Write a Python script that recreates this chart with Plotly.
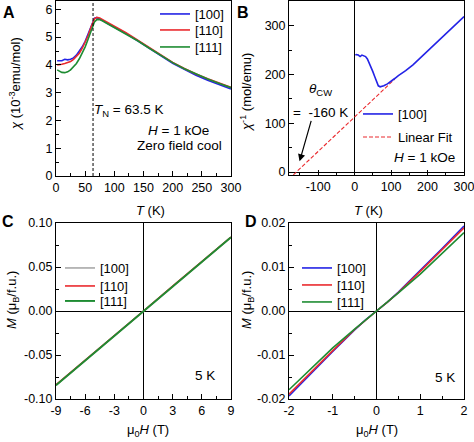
import plotly.graph_objects as go

W, H = 474, 442
FONT = "Arial, Liberation Sans, sans-serif"

# ---------------- data ----------------
# Panel A: susceptibility chi (1e-3 emu/mol) vs T (K)
T_A = [2, 5, 10, 15, 20, 25, 30, 35, 40, 45, 50, 55, 60, 63, 66, 70, 75, 80, 90,
       100, 120, 140, 160, 180, 200, 220, 240, 260, 280, 300]
chi_100 = [4.15, 4.14, 4.15, 4.20, 4.18, 4.20, 4.25, 4.35, 4.48, 4.65, 4.85, 5.10, 5.38,
           5.55, 5.68, 5.70, 5.66, 5.60, 5.47, 5.36, 5.13, 4.87, 4.59, 4.31, 4.06, 3.84,
           3.63, 3.45, 3.29, 3.13]
chi_110 = [4.00, 4.00, 4.02, 4.05, 4.08, 4.12, 4.20, 4.30, 4.42, 4.60, 4.82, 5.05, 5.35,
           5.52, 5.66, 5.71, 5.69, 5.63, 5.50, 5.39, 5.16, 4.90, 4.62, 4.35, 4.09, 3.87,
           3.67, 3.50, 3.34, 3.19]
chi_111 = [3.82, 3.78, 3.73, 3.72, 3.75, 3.82, 3.92, 4.05, 4.22, 4.42, 4.65, 4.92, 5.22,
           5.40, 5.55, 5.63, 5.63, 5.58, 5.46, 5.35, 5.12, 4.87, 4.60, 4.33, 4.08, 3.86,
           3.66, 3.49, 3.33, 3.18]
T_N = 63.5

# Panel B: inverse susceptibility (mol/emu) vs T (K)
T_B = [2, 5, 10, 15, 20, 25, 30, 35, 40, 45, 50, 55, 60, 65, 70, 75, 80, 90, 100, 110,
       120, 140, 160, 180, 200, 220, 240, 250, 260, 280, 300]
inv_100 = [240, 241, 240, 237, 240, 239, 237, 232, 224, 216, 206, 196, 186, 177, 175,
           175.5, 177, 181, 186, 192, 198, 208, 220, 234, 248, 262, 276, 284, 289, 303, 319]
T_fit = [-180, 110]
inv_fit = [-14.1, 190.7]
theta_cw = -160

# Panel C: M (muB/f.u.) vs mu0H (T), +/-9 T
H_C = [-9, -6, -3, 0, 3, 6, 9]
M_C_100 = [-0.0842, -0.0563, -0.0281, 0.0, 0.0281, 0.0561, 0.0839]
M_C_110 = [-0.0840, -0.0562, -0.0280, 0.0, 0.0283, 0.0562, 0.0840]
M_C_111 = [-0.0845, -0.0565, -0.0282, 0.0, 0.0282, 0.0560, 0.0838]

# Panel D: M (muB/f.u.) vs mu0H (T), +/-2 T
H_D = [-2, -1.5, -1, -0.5, -0.25, 0, 0.25, 0.5, 1, 1.5, 2]
M_D_100 = [-0.0193, -0.0142, -0.0092, -0.0043, -0.0020, 0, 0.0020, 0.0043, 0.0092, 0.0142, 0.0193]
M_D_110 = [-0.0189, -0.0139, -0.0090, -0.0042, -0.0020, 0, 0.0020, 0.0042, 0.0090, 0.0139, 0.0189]
M_D_111 = [-0.0179, -0.0131, -0.0084, -0.0041, -0.0021, 0, 0.0021, 0.0041, 0.0084, 0.0131, 0.0178]

# tick labels
A_xticks = [0, 50, 100, 150, 200, 250, 300]
A_yticks = [0, 1, 2, 3, 4, 5, 6]
B_xticks = [-100, 0, 100, 200, 300]
B_xtext = ["-100", "0", "100", "200", "300"]
B_yticks = [0, 100, 200, 300]
C_xticks = [-9, -6, -3, 0, 3, 6, 9]
C_xtext = ["-9", "-6", "-3", "0", "3", "6", "9"]
C_yticks = [-0.10, -0.05, 0.0, 0.05, 0.10]
C_ytext = ["-0.10", "-0.05", "0.00", "0.05", "0.10"]
D_xticks = [-2, -1, 0, 1, 2]
D_xtext = ["-2", "-1", "0", "1", "2"]
D_yticks = [-0.02, -0.01, 0.0, 0.01, 0.02]
D_ytext = ["-0.02", "-0.01", "0.00", "0.01", "0.02"]

BLUE = "#2323E6"
RED = "#EA2A2E"
GREEN = "#1E8C32"
GRAY = "#A8A8A8"


def fx(px):
    return px / W


def fy(py):
    return 1 - py / H


fig = go.Figure()

LW = 1.6
# Panel A
fig.add_trace(go.Scatter(x=T_A, y=chi_100, mode="lines", name="[100]", line=dict(color=BLUE, width=LW),
                         xaxis="x", yaxis="y", legend="legend", showlegend=True))
fig.add_trace(go.Scatter(x=T_A, y=chi_110, mode="lines", name="[110]", line=dict(color=RED, width=LW),
                         xaxis="x", yaxis="y", legend="legend2", showlegend=True))
fig.add_trace(go.Scatter(x=T_A, y=chi_111, mode="lines", name="[111]", line=dict(color=GREEN, width=LW),
                         xaxis="x", yaxis="y", legend="legend3", showlegend=True))
# Panel B
fig.add_trace(go.Scatter(x=T_fit, y=inv_fit, mode="lines", name="Linear Fit",
                         line=dict(color=RED, width=1.1, dash="4px,2px"),
                         xaxis="x2", yaxis="y2", legend="legend5", showlegend=True))
fig.add_trace(go.Scatter(x=T_B, y=inv_100, mode="lines", name="[100]", line=dict(color=BLUE, width=LW),
                         xaxis="x2", yaxis="y2", legend="legend4", showlegend=True))
# Panel C
fig.add_trace(go.Scatter(x=H_C, y=M_C_100, mode="lines", name="[100]", line=dict(color=GRAY, width=LW),
                         xaxis="x3", yaxis="y3", legend="legend6", showlegend=True))
fig.add_trace(go.Scatter(x=H_C, y=M_C_110, mode="lines", name="[110]", line=dict(color=RED, width=LW),
                         xaxis="x3", yaxis="y3", legend="legend7", showlegend=True))
fig.add_trace(go.Scatter(x=H_C, y=M_C_111, mode="lines", name="[111]", line=dict(color=GREEN, width=LW + 0.3),
                         xaxis="x3", yaxis="y3", legend="legend8", showlegend=True))
# Panel D
fig.add_trace(go.Scatter(x=H_D, y=M_D_100, mode="lines", name="[100]", line=dict(color=BLUE, width=LW),
                         xaxis="x4", yaxis="y4", legend="legend9", showlegend=True))
fig.add_trace(go.Scatter(x=H_D, y=M_D_110, mode="lines", name="[110]", line=dict(color=RED, width=LW),
                         xaxis="x4", yaxis="y4", legend="legend10", showlegend=True))
fig.add_trace(go.Scatter(x=H_D, y=M_D_111, mode="lines", name="[111]", line=dict(color=GREEN, width=LW),
                         xaxis="x4", yaxis="y4", legend="legend11", showlegend=True))


def axis(domain, rng, tickvals, ticktext=None, minor_dtick=None, tick0=0, zeroline=False, anchor=None):
    d = dict(domain=domain, range=rng, showline=True, linecolor="black", linewidth=1, mirror=True,
             ticks="inside", ticklen=5, tickwidth=1, tickcolor="black", showgrid=False,
             zeroline=zeroline, zerolinecolor="black", zerolinewidth=1,
             tickmode="array", tickvals=tickvals, automargin=False, ticklabeloverflow="allow",
             tickfont=dict(family=FONT, size=12.5, color="black"), anchor=anchor)
    if ticktext is not None:
        d["ticktext"] = ticktext
    if minor_dtick is not None:
        d["minor"] = dict(ticks="inside", ticklen=3, tickwidth=1, tickcolor="black",
                          tickmode="linear", tick0=tick0, dtick=minor_dtick, showgrid=False)
    return d


xA = [fx(56), fx(231)]
xB = [fx(289), fx(464)]
yTop = [fy(176), fy(1)]
yTopB = [fy(175), fy(1)]
yBot = [fy(399), fy(223)]


def leg(px_text_start, py_center):
    return dict(x=fx(px_text_start - 42), y=fy(py_center), xanchor="left", yanchor="middle",
                bgcolor="rgba(0,0,0,0)", borderwidth=0, visible=True,
                font=dict(family=FONT, size=13, color="black"), itemwidth=30)


fig.update_layout(
    width=W, height=H, margin=dict(l=0, r=0, t=0, b=0, pad=0, autoexpand=False),
    paper_bgcolor="white", plot_bgcolor="white", showlegend=True,
    font=dict(family=FONT, size=13, color="black"),
    xaxis=axis(xA, [0, 300], A_xticks, None, 25, anchor="y"),
    yaxis=axis(yTop, [0, 6.3], A_yticks, None, 0.5, anchor="x"),
    xaxis2=axis(xB, [-180, 300], B_xticks, B_xtext, 50, zeroline=True, anchor="y2"),
    yaxis2=axis(yTopB, [-6, 351], B_yticks, None, 50, zeroline=True, anchor="x2"),
    xaxis3=axis(xA, [-9, 9], C_xticks, C_xtext, 1.5, zeroline=True, anchor="y3"),
    yaxis3=axis(yBot, [-0.1, 0.1], C_yticks, C_ytext, 0.025, zeroline=True, anchor="x3"),
    xaxis4=axis(xB, [-2, 2], D_xticks, D_xtext, 0.5, zeroline=True, anchor="y4"),
    yaxis4=axis(yBot, [-0.02, 0.02], D_yticks, D_ytext, 0.005, zeroline=True, anchor="x4"),
    legend=leg(197, 14),
    legend2=leg(197, 30),
    legend3=leg(197, 47),
    legend4=leg(400, 114),
    legend5=leg(400, 137),
    legend6=leg(102, 268),
    legend7=leg(102, 286),
    legend8=leg(102, 301),
    legend9=leg(339, 268),
    legend10=leg(339, 285),
    legend11=leg(339, 302),
)

# T_N dashed line
fig.add_shape(type="line", xref="x", yref="y domain", x0=T_N, x1=T_N, y0=0, y1=1,
              line=dict(color="black", width=1, dash="3px,2px"))


def ann(text, px, py, size=13, angle=0, xanchor="center", bold=False):
    if bold:
        text = "<b>" + text + "</b>"
    fig.add_annotation(text=text, x=fx(px), y=fy(py), xref="paper", yref="paper",
                       showarrow=False, xanchor=xanchor, yanchor="middle", textangle=angle,
                       font=dict(family=FONT, size=size, color="black"))


# panel letters
ann("A", 9, 12, 16, bold=True)
ann("B", 243, 12, 16, bold=True)
ann("C", 8, 221, 16, bold=True)
ann("D", 251, 221, 16, bold=True)

# axis titles
ann("<i>T</i> (K)", 150, 210, 13)
ann("<i>T</i> (K)", 368, 210, 13)
ann("μ<sub>0</sub><i>H</i> (T)", 148, 430, 13)
ann("μ<sub>0</sub><i>H</i> (T)", 377, 430, 13)
ann("<i>χ</i> (10<sup>-3</sup>emu/mol)", 15, 84, 13, angle=-90)
ann("<i>χ</i><sup>-1</sup> (mol/emu)", 246, 92, 13, angle=-90)
ann("<i>M</i> (μ<sub>B</sub>/f.u.)", 12, 300, 13, angle=-90)
ann("<i>M</i> (μ<sub>B</sub>/f.u.)", 247, 300, 13, angle=-90)

# in-panel texts
ann("<i>T</i><sub>N</sub> = 63.5 K", 92, 110, 13.5, xanchor="left")
ann("<i>H</i> = 1 kOe", 178, 130, 13.5)
ann("Zero field cool", 179, 146, 13.5)
ann("<i>θ</i><sub>CW</sub>", 320, 90, 13.5)
ann("=  -160 K", 320, 112, 13.5)
ann("<i>H</i> = 1 kOe", 424, 157, 13.5)
ann("5 K", 205, 375, 13.5)
ann("5 K", 445, 377, 13.5)

# arrow pointing to theta_cw
fig.add_annotation(x=theta_cw + 9, y=22, xref="x2", yref="y2", ax=-118, ay=108, axref="x2", ayref="y2",
                   showarrow=True, arrowhead=2, arrowsize=1.2, arrowwidth=1.2, arrowcolor="black", text="")

# the page's default 8px body margin would shift the 474x442 figure; remove it
fig.write_html("out.html", config={"displayModeBar": False},
               post_script="document.body.style.margin='0px';")
